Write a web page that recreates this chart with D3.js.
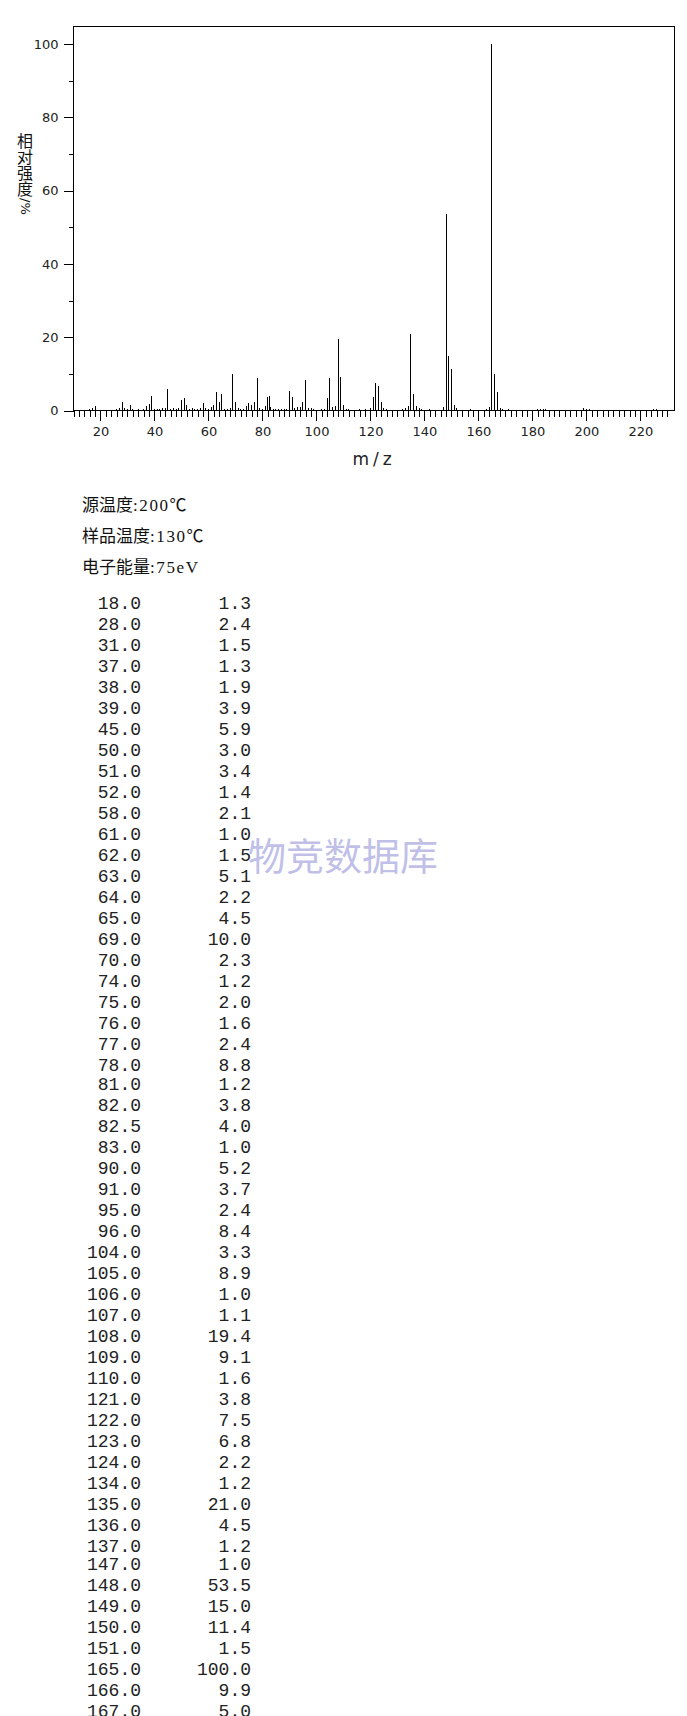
<!DOCTYPE html>
<html>
<head>
<meta charset="utf-8">
<script src="https://cdn.jsdelivr.net/npm/d3@7"></script>
<style>
  html, body { margin: 0; padding: 0; background: #fff; }
  svg { display: block; }
</style>
</head>
<body>
<svg id="chart" width="687" height="1716"></svg>
<script>
// ---- data ----
const tableMz = [18,28,31,37,38,39,45,50,51,52,58,61,62,63,64,65,69,70,74,75,76,77,78,81,82,82.5,83,90,91,95,96,104,105,106,107,108,109,110,121,122,123,124,134,135,136,137,147,148,149,150,151,165,166,167];
const tableIntensity = [1.3,2.4,1.5,1.3,1.9,3.9,5.9,3.0,3.4,1.4,2.1,1.0,1.5,5.1,2.2,4.5,10.0,2.3,1.2,2.0,1.6,2.4,8.8,1.2,3.8,4.0,1.0,5.2,3.7,2.4,8.4,3.3,8.9,1.0,1.1,19.4,9.1,1.6,3.8,7.5,6.8,2.2,1.2,21.0,4.5,1.2,1.0,53.5,15.0,11.4,1.5,100.0,9.9,5.0];
// small peaks (< 1 %) visible in the plot only
const minorMz = [16,17,26,27,29,30,32,34,36,40,41,42,43,44,46,47,48,49,53,54,55,56,57,59,60,66,67,68,71,72,73,79,80,84,85,86,87,88,89,92,93,94,97,98,99,102,103,111,112,116,118,120,125,126,132,133,138,139,142,152,157,163,164,168,169,171,182,183,184,185,199,200,201,225,226];
const minorIntensity = [0.3,0.8,0.5,0.8,0.8,0.5,0.3,0.3,0.3,0.3,0.3,0.5,0.6,0.8,0.5,0.6,0.5,0.6,0.5,0.8,0.4,0.3,0.6,0.6,0.3,0.4,0.4,0.6,0.8,0.4,0.3,0.8,0.4,0.4,0.3,0.3,0.3,0.3,0.3,0.6,0.9,0.9,0.8,0.6,0.4,0.3,0.4,0.4,0.3,0.3,0.4,0.8,0.6,0.3,0.4,0.6,0.6,0.3,0.3,0.6,0.3,0.3,0.9,0.6,0.3,0.3,0.5,0.3,0.3,0.3,0.8,0.4,0.3,0.3,0.3];
const xMajorTicks = [20,40,60,80,100,120,140,160,180,200,220];
const yMajorTicks = [0,20,40,60,80,100];
const yMinorTicks = [10,30,50,70,90];
const xLabel = "m/z";
const yLabelText = "相对强度";
const yLabelUnit = "/%";
const infoLabels = ["源温度", "样品温度", "电子能量"];
const infoValues = [":200℃", ":130℃", ":75eV"];
const watermark = "物竞数据库";

// ---- layout ----
const svg = d3.select("#chart");
svg.append("rect").attr("width", 687).attr("height", 1716).attr("fill", "#fff");

const x = d3.scaleLinear().domain([10, 232.6]).range([73.5, 674.5]);
const y = d3.scaleLinear().domain([0, 100]).range([410.5, 44]);
const xMinorTicks = d3.range(10, 232, 2).filter(v => v % 20 !== 0);

const g = svg.append("g").attr("shape-rendering", "crispEdges");

// peaks
const peaks = tableMz.map((m, i) => ({m, v: tableIntensity[i]}))
  .concat(minorMz.map((m, i) => ({m, v: minorIntensity[i]})));
g.selectAll("line.peak").data(peaks).join("line")
  .attr("class", "peak")
  .attr("x1", d => Math.round(x(d.m) - 0.5) + 0.5)
  .attr("x2", d => Math.round(x(d.m) - 0.5) + 0.5)
  .attr("y1", y(0)).attr("y2", d => y(d.v))
  .attr("stroke", "#000").attr("stroke-width", 1);

// frame
g.append("rect")
  .attr("x", x(10)).attr("y", 26.5)
  .attr("width", x(232.6) - x(10)).attr("height", y(0) - 26.5)
  .attr("fill", "none").attr("stroke", "#000").attr("stroke-width", 1);

const tickFont = "'DejaVu Sans', sans-serif";

// x axis
const xAxisMinor = d3.axisBottom(x).tickValues(xMinorTicks).tickSize(6).tickFormat("");
const xAxisMajor = d3.axisBottom(x).tickValues(xMajorTicks).tickSize(10).tickPadding(6).tickFormat(d3.format("d"));
const gxMin = svg.append("g").attr("transform", `translate(0,${y(0)})`).call(xAxisMinor);
const gxMaj = svg.append("g").attr("transform", `translate(0,${y(0)})`).call(xAxisMajor);
// y axis
const yAxisMinor = d3.axisLeft(y).tickValues(yMinorTicks).tickSize(5).tickFormat("");
const yAxisMajor = d3.axisLeft(y).tickValues(yMajorTicks).tickSize(10).tickPadding(5).tickFormat(d3.format("d"));
const gyMin = svg.append("g").attr("transform", `translate(${x(10)},0)`).call(yAxisMinor);
const gyMaj = svg.append("g").attr("transform", `translate(${x(10)},0)`).call(yAxisMajor);

[gxMin, gxMaj, gyMin, gyMaj].forEach(a => {
  a.attr("shape-rendering", "crispEdges");
  a.select(".domain").remove();
  a.selectAll(".tick line").attr("stroke", "#000");
  a.selectAll(".tick text").attr("fill", "#222").style("font-family", tickFont).style("font-size", "13px");
});

// axis titles
svg.append("text")
  .attr("x", (x(10) + x(232.6)) / 2).attr("y", 465)
  .attr("text-anchor", "middle")
  .style("font-family", tickFont).style("font-size", "17px")
  .style("letter-spacing", "4px")
  .attr("fill", "#222")
  .text(xLabel);

svg.append("text")
  .attr("x", 25).attr("y", 133)
  .attr("fill", "#111")
  .style("writing-mode", "vertical-rl")
  .style("font-family", "'Noto Sans CJK SC', sans-serif").style("font-size", "16px")
  .text(yLabelText);
svg.append("text")
  .attr("transform", "translate(25,198) rotate(90)")
  .attr("dominant-baseline", "central")
  .attr("fill", "#111")
  .style("font-family", tickFont).style("font-size", "13px")
  .text(yLabelUnit);

// info lines
const infoBase = [511, 542, 573];
const info = svg.selectAll("text.info").data(infoLabels).join("text")
  .attr("class", "info")
  .attr("x", 82).attr("y", (d, i) => infoBase[i])
  .attr("fill", "#111");
info.append("tspan")
  .style("font-family", "'Noto Sans CJK SC', sans-serif").style("font-size", "17px")
  .text(d => d);
info.append("tspan")
  .style("font-family", "'Liberation Serif', 'Noto Sans CJK SC', serif").style("font-size", "17px")
  .style("letter-spacing", "1.6px")
  .text((d, i) => infoValues[i]);

// peak table
const rowY = i => 609.3 + i * 21 - Math.floor(i / 23) * 2.7;
const tableFont = "'Liberation Mono', monospace";
const rows = svg.append("g").style("font-family", tableFont).style("font-size", "18px").attr("fill", "#222");
rows.selectAll("text.mz").data(tableMz).join("text")
  .attr("class", "mz").attr("text-anchor", "end")
  .attr("x", 141).attr("y", (d, i) => rowY(i))
  .text(d => d.toFixed(1));
rows.selectAll("text.val").data(tableIntensity).join("text")
  .attr("class", "val").attr("text-anchor", "end")
  .attr("x", 251).attr("y", (d, i) => rowY(i))
  .text(d => d.toFixed(1));

// watermark
svg.append("text")
  .attr("x", 343).attr("y", 870)
  .attr("text-anchor", "middle")
  .style("font-family", "'Noto Sans CJK SC', sans-serif").style("font-size", "38px")
  .attr("fill", "#8080d0").attr("fill-opacity", 0.5)
  .text(watermark);
</script>
</body>
</html>
